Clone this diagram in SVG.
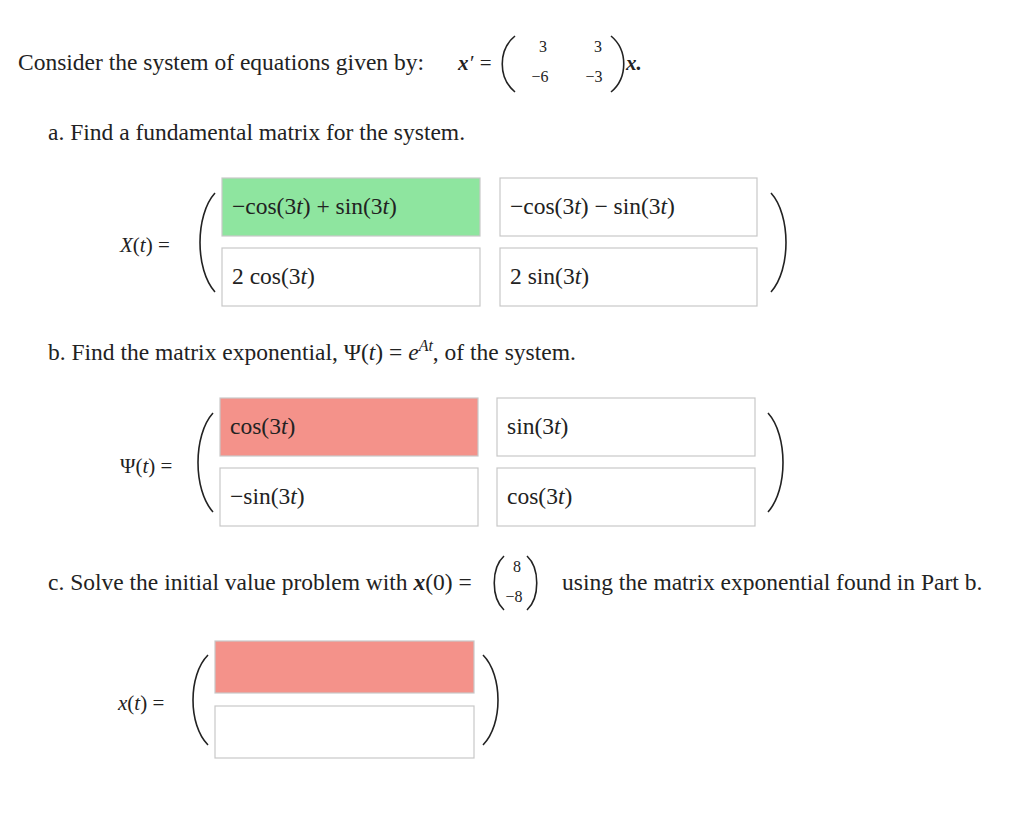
<svg xmlns="http://www.w3.org/2000/svg" width="1024" height="836" viewBox="0 0 1024 836" font-family="'Liberation Serif', 'DejaVu Serif', serif">
<style>
text{fill:#222;}
.t{font-size:23.5px;}
.m{font-size:21px;}
.s{font-size:16px;}
.b{fill:#fff;stroke:#c8c8c8;stroke-width:1.2;}
.g{fill:#8ee59f;stroke:#c8c8c8;stroke-width:1.2;}
.r{fill:#f4928a;stroke:#c8c8c8;stroke-width:1.2;}
.p{fill:none;stroke:#222;stroke-width:1.6;}
</style>
<rect width="1024" height="836" fill="#fff"/>
<text x="18" y="70" class="t">Consider the system of equations given by:</text>
<text x="458" y="70" class="m" font-weight="bold" font-style="italic">x</text><text x="470" y="70" class="m">′ =</text>
<path class="p" d="M515,36 C498,50 498,78 515,92"/>
<text x="543" y="52" class="s" text-anchor="middle">3</text><text x="598" y="52" class="s" text-anchor="middle">3</text>
<text x="540" y="82" class="s" text-anchor="middle">−6</text><text x="594" y="82" class="s" text-anchor="middle">−3</text>
<path class="p" d="M611,36 C628,50 628,78 611,92"/>
<text x="626" y="70" class="m" font-weight="bold" font-style="italic">x.</text>
<text x="48" y="140" class="t">a. Find a fundamental matrix for the system.</text>
<text x="120" y="252" class="m"><tspan font-style="italic">X</tspan>(<tspan font-style="italic">t</tspan>) =</text>
<path class="p" d="M215,193 C195,215 195,270 215,292"/>
<path class="p" d="M771,193 C791,215 791,270 771,292"/>
<rect class="g" x="222" y="178" width="258" height="58"/>
<rect class="b" x="500" y="178" width="257" height="58"/>
<rect class="b" x="222" y="248" width="258" height="58"/>
<rect class="b" x="500" y="248" width="257" height="58"/>
<text x="232" y="214" class="t">−cos(3<tspan font-style="italic">t</tspan>) + sin(3<tspan font-style="italic">t</tspan>)</text>
<text x="510" y="214" class="t">−cos(3<tspan font-style="italic">t</tspan>) − sin(3<tspan font-style="italic">t</tspan>)</text>
<text x="232" y="284" class="t">2 cos(3<tspan font-style="italic">t</tspan>)</text>
<text x="510" y="284" class="t">2 sin(3<tspan font-style="italic">t</tspan>)</text>
<text x="48" y="360" class="t">b. Find the matrix exponential, Ψ(<tspan font-style="italic">t</tspan>) = <tspan font-style="italic">e</tspan><tspan font-style="italic" font-size="16" dy="-9">At</tspan><tspan dy="9">, of the system.</tspan></text>
<text x="120" y="473" class="m">Ψ(<tspan font-style="italic">t</tspan>) =</text>
<path class="p" d="M213,413 C193,435 193,490 213,512"/>
<path class="p" d="M768,413 C788,435 788,490 768,512"/>
<rect class="r" x="220" y="398" width="258" height="58"/>
<rect class="b" x="497" y="398" width="258" height="58"/>
<rect class="b" x="220" y="468" width="258" height="58"/>
<rect class="b" x="497" y="468" width="258" height="58"/>
<text x="230" y="434" class="t">cos(3<tspan font-style="italic">t</tspan>)</text>
<text x="507" y="434" class="t">sin(3<tspan font-style="italic">t</tspan>)</text>
<text x="230" y="504" class="t">−sin(3<tspan font-style="italic">t</tspan>)</text>
<text x="507" y="504" class="t">cos(3<tspan font-style="italic">t</tspan>)</text>
<text x="48" y="590" class="t">c. Solve the initial value problem with <tspan font-weight="bold" font-style="italic">x</tspan>(0) =</text>
<path class="p" d="M504,556 C491,568 491,598 504,610"/>
<text x="517" y="572" class="s" text-anchor="middle">8</text>
<text x="514" y="602" class="s" text-anchor="middle">−8</text>
<path class="p" d="M527,556 C540,568 540,598 527,610"/>
<text x="562" y="590" class="t">using the matrix exponential found in Part b.</text>
<text x="118" y="710" class="m"><tspan font-style="italic">x</tspan>(<tspan font-style="italic">t</tspan>) =</text>
<path class="p" d="M208,655 C188,675 188,725 208,745"/>
<path class="p" d="M483,655 C503,675 503,725 483,745"/>
<rect class="r" x="215" y="641" width="259" height="52"/>
<rect class="b" x="215" y="706" width="259" height="52"/>
</svg>
